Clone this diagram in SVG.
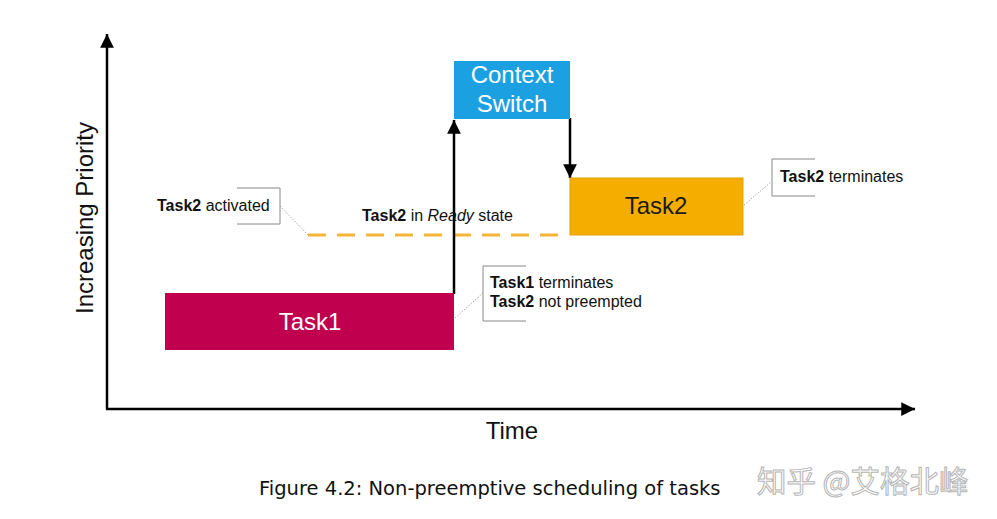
<svg xmlns="http://www.w3.org/2000/svg" width="997" height="519" viewBox="0 0 997 519">
<style>
.lbl{font-family:"Liberation Sans",Arial,sans-serif;font-size:16px;fill:#111}
.b{font-weight:bold}
.big{font-family:"Liberation Sans",Arial,sans-serif;font-size:24px}
.brk{fill:none;stroke:#888;stroke-width:1}
.lead{fill:none;stroke:#aaa;stroke-width:1;stroke-dasharray:1.5 1.5}
.ax{fill:none;stroke:#000;stroke-width:2.5}
</style>
<defs>
<marker id="ah" viewBox="0 0 10 10" refX="10" refY="5" markerWidth="5.5" markerHeight="5.5" orient="auto" markerUnits="strokeWidth">
<path d="M0,0 L10,5 L0,10 Z" fill="#000"/>
</marker>
</defs>
<rect width="997" height="519" fill="#fff"/>

<g id="axes">
<line class="ax" x1="107" y1="409" x2="107" y2="34" marker-end="url(#ah)"/>
<line class="ax" x1="106" y1="409" x2="915" y2="409" marker-end="url(#ah)"/>
<text class="big" fill="#111" transform="translate(93,218) rotate(-90)" text-anchor="middle">Increasing Priority</text>
<text class="big" fill="#111" x="512" y="439" text-anchor="middle">Time</text>
</g>

<g id="connectors">
<line x1="308" y1="235" x2="567" y2="235" stroke="#F5B43A" stroke-width="2.8" stroke-dasharray="18 11"/>
<line class="ax" x1="454" y1="294" x2="454" y2="120" marker-end="url(#ah)"/>
<line class="ax" x1="570" y1="118" x2="570" y2="178" marker-end="url(#ah)"/>
<path class="lead" d="M280,206 L308,235"/>
<path class="lead" d="M455,318 L483,293"/>
<path class="lead" d="M744,205 L771,182"/>
</g>

<g id="task1">
<rect x="165" y="293" width="289" height="57" fill="#C0004E"/>
<text class="big" x="310" y="330" fill="#fff" font-size="23" text-anchor="middle">Task1</text>
</g>

<g id="context-switch">
<rect x="454" y="61" width="116" height="58" fill="#1BA1E2"/>
<text class="big" x="512" y="83" fill="#fff" text-anchor="middle">Context</text>
<text class="big" x="512" y="112" fill="#fff" text-anchor="middle">Switch</text>
</g>

<g id="task2">
<rect x="570" y="178" width="173" height="57" fill="#F5AE00" stroke="#E2A000" stroke-width="1"/>
<text class="big" x="656" y="214" fill="#1a1a1a" font-size="23.5" text-anchor="middle">Task2</text>
</g>

<g id="note-activated">
<path class="brk" d="M237,188 H280 V224 H237"/>
<text class="lbl" x="157" y="211"><tspan class="b">Task2</tspan> activated</text>
</g>

<g id="note-ready">
<text class="lbl" x="362" y="221"><tspan class="b">Task2</tspan> in <tspan font-style="italic">Ready</tspan> state</text>
</g>

<g id="note-task1-terminates">
<path class="brk" d="M526,266 H483 V321 H526"/>
<text class="lbl" x="490" y="288"><tspan class="b">Task1</tspan> terminates</text>
<text class="lbl" x="490" y="307"><tspan class="b">Task2</tspan> not preempted</text>
</g>

<g id="note-task2-terminates">
<path class="brk" d="M815,159 H772 V196 H815"/>
<text class="lbl" x="780" y="182"><tspan class="b">Task2</tspan> terminates</text>
</g>

<text x="259" y="495" font-family="'DejaVu Sans',sans-serif" font-size="19.5" fill="#111">Figure 4.2: Non-preemptive scheduling of tasks</text>
<text x="757" y="492" font-family="'Noto Sans CJK SC',sans-serif" font-size="29.5" fill="#fff" stroke="#b5b5b5" stroke-width="1">知乎 @艾格北峰</text>
</svg>
